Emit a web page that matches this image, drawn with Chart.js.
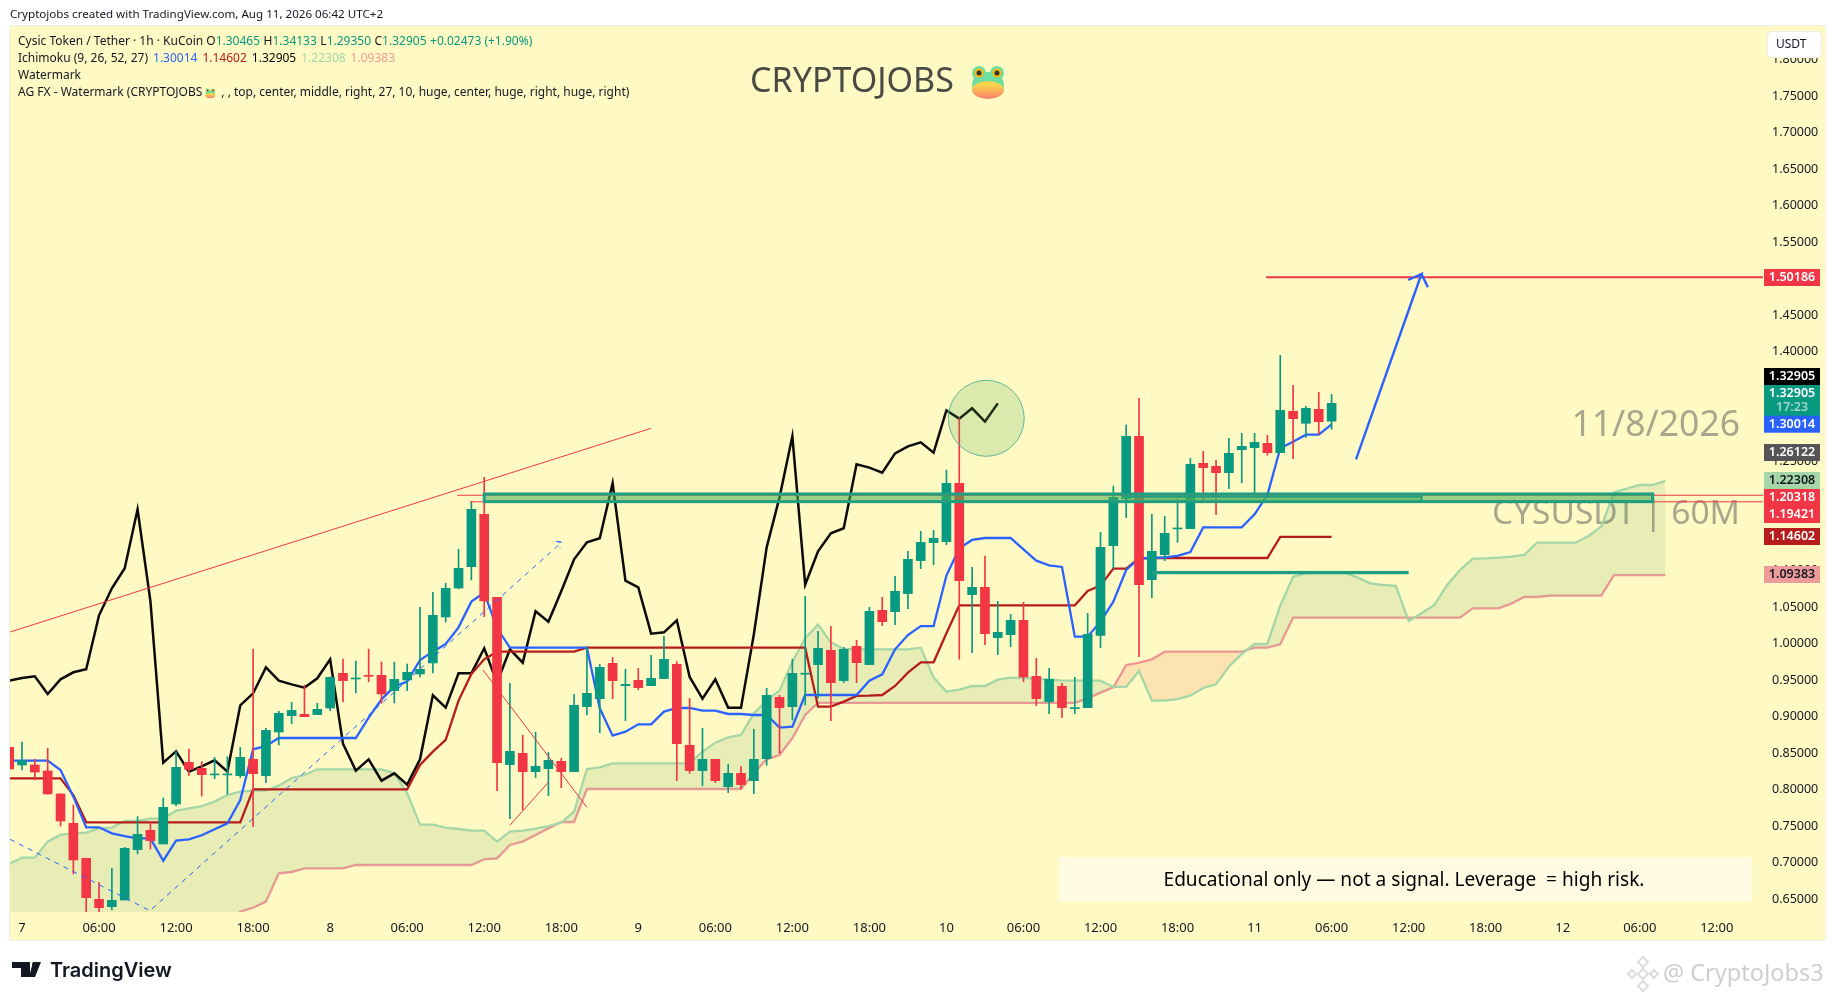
<!DOCTYPE html>
<html>
<head>
<meta charset="utf-8">
<title>CYSUSDT 1h</title>
<script src="https://cdn.jsdelivr.net/npm/chart.js@4"></script>
<style>
html,body{margin:0;padding:0;background:#fff}
canvas{display:block}
</style>
</head>
<body>
<canvas id="chart" width="1835" height="1000"></canvas>
<script>
// candles, first one sits one hour before Aug 7 00:00
const firstHour = -1
const opens = [.8578,.8336,.8336,.8254,.7939,.7537,.7057,.6496,.6395,.6486,.7176,.7441,.7254,.7802,.8373,.8290,.8200,.8200,.8190,.8414,.8190,.8788,.9012,.9030,.9026,.9117,.9592,.9514,.9565,.9565,.9355,.9501,.9583,.9734,1.0364,1.0761,1.1053,1.1771,1.0633,.8341,.8496,.8245,.8286,.8386,.8245,.9135,.9245,.9729,.9423,.9496,.9423,.9519,.9715,.8606,.8259,.8414,.8039,.8222,.8121,.8423,.9263,.9135,.9580,.9711,.9907,.9492,.9962,.9711,1.0455,1.0437,1.0684,1.1136,1.1382,1.1396,1.2195,1.0670,1.0770,1.0081,1.0122,1.0318,.9551,.9204,.9414,.9108,.9122,1.0113,1.1341,1.1985,1.2839,1.0875,1.1218,1.1570,1.1574,1.2469,1.2428,1.2341,1.2656,1.2684,1.2743,1.2615,1.3182,1.3017,1.3209,1.30465]
const highs = [.8650,.8651,.8414,.8565,.7945,.7788,.7060,.6729,.6920,.7208,.7628,.7551,.7884,.8519,.8555,.8382,.8441,.8450,.8578,.9925,.8839,.9071,.9195,.9432,.9181,.9540,.9788,.9761,.9925,.9747,.9747,.9720,1.0496,1.0702,1.0826,1.1291,1.1944,1.2277,1.0633,.9455,.8743,.8784,.8510,.8427,.9304,.9953,.9715,.9811,.9647,.9660,.9839,1.0099,.9752,.9250,.8839,.8414,.8345,.8313,.8825,.9387,.9291,.9784,1.0647,1.0167,1.0236,.9948,1.0044,1.0496,1.0633,1.0921,1.1264,1.1538,1.1552,1.2378,1.3090,1.1044,1.1200,1.0578,1.0400,1.0565,.9798,.9660,.9455,.9537,1.0414,1.1524,1.2159,1.2994,1.3360,1.1770,1.1743,1.1976,1.2538,1.2634,1.2510,1.2812,1.2880,1.2880,1.2853,1.3949,1.3538,1.3250,1.3442,1.34133]
const lows = [.8281,.8268,.8131,.7939,.7500,.6843,.6258,.6304,.6350,.6486,.7117,.7185,.7254,.7774,.8190,.7911,.8149,.7939,.8163,.7491,.8094,.8610,.8902,.8998,.9026,.9081,.9199,.9323,.9478,.9181,.9186,.9355,.9542,.9597,1.0295,1.0748,1.0871,1.0368,.7985,.7601,.7720,.8163,.7916,.8026,.8245,.9021,.8779,.9245,.8944,.9368,.9423,.9519,.8121,.8222,.8053,.8094,.7957,.8012,.7943,.8332,.8496,.8953,.9158,.9250,.8944,.9464,.9464,.9711,1.0245,1.0259,1.0478,1.1027,1.1081,1.1355,.9784,.9875,.9985,.9848,.9957,.9478,.9149,.9039,.8985,.9039,.9122,.9944,1.1031,1.1725,.9820,1.0629,1.1136,1.1387,1.1574,1.1949,1.1766,1.2122,1.2204,1.2058,1.2579,1.2615,1.2533,1.2825,1.2867,1.2935]
const closes = [.8281,.8396,.8240,.7939,.7569,.7035,.6518,.6381,.6482,.7194,.7386,.7299,.7756,.8304,.8277,.8204,.8210,.8210,.8441,.8217,.8811,.9044,.9085,.8998,.9099,.9537,.9492,.9528,.9551,.9309,.9510,.9606,.9647,1.0387,1.0757,1.1031,1.1839,1.0583,.8368,.8523,.8245,.8318,.8400,.8245,.9154,.9318,.9674,.9492,.9441,.9396,.9524,.9784,.8628,.8259,.8414,.8121,.8222,.8067,.8414,.9291,.9122,.9592,.9592,.9935,.9464,.9921,.9738,1.0442,1.0300,1.0716,1.1154,1.1387,1.1442,1.2195,1.0862,1.0770,1.0135,1.0154,1.0318,.9542,.9245,.9510,.9122,.9122,1.0126,1.1318,1.2003,1.2839,1.0807,1.1264,1.1510,1.1580,1.2456,1.2410,1.2341,1.2606,1.2702,1.2757,1.2615,1.3195,1.3081,1.3223,1.3040,1.32905]

// ichimoku
const tenkan = [.8396,.8396,.8396,.8396,.8268,.7902,.7482,.7482,.7400,.7363,.7331,.7331,.7025,.7299,.7318,.7373,.7455,.7537,.7857,.8551,.8596,.8706,.8706,.8706,.8706,.8706,.8706,.8706,.8985,.9236,.9410,.9478,.9775,.9889,.9994,1.0222,1.0574,1.0697,1.0209,.9944,.9944,.9944,.9944,.9944,.9944,.9944,.9113,.8738,.8793,.8893,.8893,.9067,.9117,.9117,.9081,.9081,.9035,.9035,.9021,.9021,.8848,.8861,.9295,.9295,.9295,.9295,.9295,.9492,.9578,.9921,1.0117,1.0240,1.0240,1.0931,1.1305,1.1419,1.1446,1.1446,1.1446,1.1291,1.1136,1.1072,1.1049,1.0094,1.0094,1.0300,1.0574,1.1008,1.1168,1.1172,1.1181,1.1200,1.1254,1.1592,1.1592,1.1592,1.1592,1.1770,1.2035,1.2675,1.2766,1.2862,1.2862,1.30014]
const kijun = [.8153,.8153,.8153,.8153,.8153,.7925,.7551,.7551,.7551,.7551,.7551,.7551,.7551,.7551,.7551,.7551,.7551,.7551,.7551,.8003,.8003,.8003,.8003,.8003,.8003,.8003,.8003,.8003,.8003,.8003,.8003,.8003,.8336,.8519,.8679,.9218,.9583,.9784,.9889,.9889,.9889,.9889,.9889,.9889,.9889,.9944,.9944,.9944,.9944,.9944,.9944,.9944,.9944,.9944,.9944,.9944,.9944,.9944,.9944,.9944,.9944,.9944,.9944,.9135,.9135,.9204,.9282,.9286,.9295,.9419,.9601,.9743,.9743,1.0140,1.0524,1.0524,1.0524,1.0524,1.0524,1.0524,1.0524,1.0524,1.0524,1.0524,1.0720,1.0793,1.1026,1.1026,1.1168,1.1172,1.1172,1.1172,1.1172,1.1172,1.1172,1.1172,1.1172,1.1172,1.1172,1.14602,1.14602,1.14602,1.14602,1.14602]
// lagging span starts at the same hour as the candles, ends at hour 76
const chikou = [.9492,.9528,.9551,.9309,.9510,.9606,.9647,1.0387,1.0757,1.1031,1.1839,1.0583,.8368,.8523,.8245,.8318,.8400,.8245,.9154,.9318,.9674,.9492,.9441,.9396,.9524,.9784,.8628,.8259,.8414,.8121,.8222,.8067,.8414,.9291,.9122,.9592,.9592,.9935,.9464,.9921,.9738,1.0442,1.0300,1.0716,1.1154,1.1387,1.1442,1.2195,1.0862,1.0770,1.0135,1.0154,1.0318,.9542,.9245,.9510,.9122,.9122,1.0126,1.1318,1.2003,1.2839,1.0807,1.1264,1.1510,1.1580,1.2456,1.2410,1.2341,1.2606,1.2702,1.2757,1.2615,1.3195,1.3081,1.3223,1.3040,1.32905]
// leading spans run on to hour 128
const senkouA = [.6980,.7067,.7067,.7286,.7382,.7400,.7409,.7468,.7478,.7569,.7569,.7601,.7605,.7711,.7742,.7774,.7834,.7925,.7971,.7985,.7985,.8053,.8158,.8199,.8277,.8277,.8277,.8277,.8277,.8277,.8222,.7948,.7519,.7519,.7478,.7459,.7437,.7437,.7286,.7423,.7437,.7464,.7500,.7546,.7697,.8281,.8304,.8359,.8359,.8359,.8359,.8359,.8359,.8359,.8519,.8642,.8715,.8747,.9044,.9218,.9355,.9752,1.0072,1.0259,1.0017,.9926,.9921,.9921,.9921,.9921,.9921,.9944,.9537,.9341,.9368,.9418,.9418,.9505,.9532,.9528,.9514,.9510,.9492,.9492,.9492,.9492,.9405,.9405,.9624,.9217,.9217,.9240,.9286,.9391,.9441,.9683,.9857,.9994,.9994,1.0519,1.0916,1.0962,1.0971,1.0971,1.0971,1.0907,1.0825,1.0802,1.0789,1.0309,1.0414,1.0528,1.0802,1.1008,1.1163,1.1168,1.1177,1.1191,1.1213,1.1382,1.1382,1.1382,1.1382,1.1474,1.1602,1.2072,1.2122,1.2172,1.2172,1.22308]
const senkouB = [.60,.60,.60,.60,.60,.60,.60,.60,.60,.60,.60,.60,.60,.60,.60,.60,.60,.60,.6327,.6381,.6464,.6852,.6870,.6920,.6920,.6920,.6920,.6966,.6966,.6966,.6966,.6966,.6966,.6966,.6966,.6966,.6966,.7044,.7057,.7240,.7286,.7377,.7468,.7555,.7555,.8007,.8007,.8007,.8007,.8007,.8007,.8007,.8007,.8007,.8007,.8007,.8007,.8007,.8222,.8414,.8473,.8702,.9021,.9186,.9186,.9186,.9186,.9186,.9186,.9186,.9186,.9186,.9186,.9186,.9186,.9186,.9186,.9186,.9186,.9186,.9186,.9186,.9186,.9186,.9249,.9327,.9400,.9706,.9738,.9784,.9889,.9889,.9889,.9889,.9889,.9889,.9889,.9944,.9944,.9989,1.0355,1.0355,1.0355,1.0355,1.0355,1.0355,1.0355,1.0355,1.0355,1.0355,1.0355,1.0355,1.0355,1.0355,1.0483,1.0483,1.0483,1.0547,1.0638,1.0638,1.0656,1.0656,1.0656,1.0656,1.0656,1.09383,1.09383,1.09383,1.09383,1.09383]

// drawings, as [hour, price]
const trendLine = [[-.93,1.0158],[49,1.2949]]
const fallLine = [[35.9,.9638],[44,.7756]]
const riseLine = [[38,.7510],[41,.8099]]
const dashedPath = [[-.93,.7318],[9.97,.6340],[42.03,1.1387],[41.43,1.1405],[42.03,1.1387],[41.9,1.1313]]
const arrowPath = [[103.9,1.2524],[109,1.5063],[107.96,1.4981],[109,1.5063],[109.5,1.4881]]
const targetLine = [[96.9,1.50186],[135.6,1.50186]]
const upperLine = [[33.9,1.20318],[135.6,1.20318]]
const lowerLine = [[34.9,1.19421],[135.6,1.19421]]
const circlePoint = [75.1,1.3086]
const zoneBig = [36,127,1.2049,1.1944]
const zoneSmall = [86,109,1.2013,1.1944]
const zoneLow = [88,108,1.0995,1.0950]

// axes
const priceTicks = [.65,.70,.75,.80,.85,.90,.95,1.00,1.05,1.10,1.15,1.20,1.25,1.30,1.35,1.40,1.45,1.50,1.55,1.60,1.65,1.70,1.75,1.80]
const timeHours = [0,6,12,18,24,30,36,42,48,54,60,66,72,78,84,90,96,102,108,114,120,126,132]
const timeLabels = ['7','06:00','12:00','18:00','8','06:00','12:00','18:00','9','06:00','12:00','18:00','10','06:00','12:00','18:00','11','06:00','12:00','18:00','12','06:00','12:00']
const tagValues = ['1.50186','1.32905','1.32905','1.30014','1.26122','1.22308','1.20318','1.19421','1.14602','1.09383']

const UP = '#089981', DOWN = '#F23645', BLUE = '#2962FF', KIJUN = '#B71C1C', SPAN_A = '#A5D6A7', SPAN_B = '#EF9A9A'
const FONT = '"Noto Sans"'
const hours = opens.map((_, i) => i + firstHour)
const toPoints = (arr) => arr.map((v, i) => ({x: i + firstHour, y: v}))
const pairs = (arr) => arr.map(p => ({x: p[0], y: p[1]}))
const candleColors = opens.map((o, i) => closes[i] >= o ? UP : DOWN)

function textRun(ctx, x, y, parts, font) {
    ctx.font = font
    ctx.textAlign = 'left'
    ctx.textBaseline = 'middle'
    parts.forEach(p => {
        ctx.fillStyle = p[1]
        ctx.fillText(p[0], x, y)
        x += ctx.measureText(p[0]).width + (p[2] || 0)
    })
    return x
}

function frog(ctx, cx, cy, s) {
    ctx.save()
    ctx.translate(cx, cy)
    ctx.scale(s, s)
    ctx.fillStyle = '#6EDDA0'
    ctx.beginPath(); ctx.ellipse(0, 2, 16, 13, 0, 0, Math.PI * 2); ctx.fill()
    ctx.beginPath(); ctx.arc(-9, -10, 7, 0, Math.PI * 2); ctx.fill()
    ctx.beginPath(); ctx.arc(9, -10, 7, 0, Math.PI * 2); ctx.fill()
    const belly = ctx.createLinearGradient(0, 2, 0, 15)
    belly.addColorStop(0, '#FCD34D')
    belly.addColorStop(1, '#F9836B')
    ctx.fillStyle = belly
    ctx.beginPath(); ctx.ellipse(0, 7, 16, 9, 0, 0, Math.PI * 2); ctx.fill()
    ctx.fillStyle = '#F5B90F'
    ctx.beginPath(); ctx.arc(-9, -10, 4.5, 0, Math.PI * 2); ctx.fill()
    ctx.beginPath(); ctx.arc(9, -10, 4.5, 0, Math.PI * 2); ctx.fill()
    ctx.fillStyle = '#333'
    ctx.beginPath(); ctx.arc(-9, -10, 2.5, 0, Math.PI * 2); ctx.fill()
    ctx.beginPath(); ctx.arc(9, -10, 2.5, 0, Math.PI * 2); ctx.fill()
    ctx.restore()
}

const panelPlugin = {
    id: 'panel',
    beforeDraw(chart) {
        const ctx = chart.ctx
        ctx.save()
        ctx.fillStyle = '#fff'
        ctx.fillRect(0, 0, chart.width, chart.height)
        ctx.fillStyle = '#FFF9C4'
        ctx.fillRect(10, 26, 1815, 914)
        ctx.strokeStyle = '#F0F0E8'
        ctx.strokeRect(9.5, 25.5, 1816, 915)
        ctx.restore()
    },
    beforeDatasetsDraw(chart) {
        // watermark text sits behind the series
        const ctx = chart.ctx
        ctx.save()
        ctx.fillStyle = '#A9A68E'
        ctx.textAlign = 'right'
        ctx.textBaseline = 'middle'
        ctx.font = '35.5px ' + FONT
        ctx.fillText('11/8/2026', 1740, 426)
        ctx.font = '33.5px ' + FONT
        ctx.fillText('CYSUSDT | 60M', 1740, 514)
        ctx.fillStyle = '#FFFBE3'
        ctx.fillRect(1059, 857, 693, 44)
        ctx.restore()
    }
}

const overlayPlugin = {
    id: 'overlay',
    afterDatasetsDraw(chart) {
        const ctx = chart.ctx, xs = chart.scales.x, ys = chart.scales.y
        const zone = (z, fill, line, w) => {
            const x0 = xs.getPixelForValue(z[0]), x1 = xs.getPixelForValue(z[1])
            const y0 = ys.getPixelForValue(z[2]), y1 = ys.getPixelForValue(z[3])
            ctx.fillStyle = fill
            ctx.fillRect(x0, y0, x1 - x0, y1 - y0)
            if (line) {
                ctx.strokeStyle = line
                ctx.lineWidth = w
                ctx.strokeRect(x0, y0, x1 - x0, y1 - y0)
            }
        }
        ctx.save()
        zone(zoneBig, 'rgba(76,175,80,.55)', '#1E9E82', 3)
        zone(zoneSmall, 'rgba(76,175,80,.45)', '#1E9E82', 2)
        zone(zoneLow, '#1E9E82')
        ctx.fillStyle = 'rgba(76,175,80,.2)'
        ctx.strokeStyle = '#5DB898'
        ctx.lineWidth = 1
        ctx.beginPath()
        ctx.arc(xs.getPixelForValue(circlePoint[0]), ys.getPixelForValue(circlePoint[1]), 38, 0, Math.PI * 2)
        ctx.fill()
        ctx.stroke()
        ctx.restore()
    },
    afterDraw(chart) {
        const ctx = chart.ctx
        ctx.save()
        // header + legend
        textRun(ctx, 10, 15, [['Cryptojobs created with TradingView.com, Aug 11, 2026 06:42 UTC+2', '#131722']], '11.6px ' + FONT)
        const f = '12px ' + FONT
        textRun(ctx, 18, 42, [['Cysic Token / Tether · 1h · KuCoin', '#131722', 3], ['O', '#131722'], ['1.30465', UP, 3.5], ['H', '#131722'], ['1.34133', UP, 3.5], ['L', '#131722'], ['1.29350', UP, 3.5], ['C', '#131722'], ['1.32905', UP, 3.5], ['+0.02473 (+1.90%)', UP]], f)
        textRun(ctx, 18, 59, [['Ichimoku (9, 26, 52, 27)', '#131722', 5], ['1.30014', BLUE, 5], ['1.14602', KIJUN, 5], ['1.32905', '#000', 5], ['1.22308', SPAN_A, 5], ['1.09383', SPAN_B]], f)
        textRun(ctx, 18, 76, [['Watermark', '#131722']], f)
        const after = textRun(ctx, 18, 93, [['AG FX - Watermark (CRYPTOJOBS', '#131722']], f)
        frog(ctx, after + 8, 93.5, .3)
        textRun(ctx, after + 19, 93, [[', , top, center, middle, right, 27, 10, huge, center, huge, right, huge, right)', '#131722']], f)
        // big watermark
        textRun(ctx, 750, 82, [['CRYPTOJOBS', '#4A4A44']], '34px ' + FONT)
        frog(ctx, 988, 83, 1)
        // disclaimer
        ctx.fillStyle = '#000'
        ctx.font = '19.1px ' + FONT
        ctx.textAlign = 'center'
        ctx.textBaseline = 'middle'
        ctx.fillText('Educational only — not a signal. Leverage  = high risk.', 1404, 881)
        // currency button
        ctx.fillStyle = '#fff'
        ctx.strokeStyle = '#EDEDED'
        ctx.beginPath()
        ctx.roundRect(1767.5, 31.5, 54, 26, 4)
        ctx.fill()
        ctx.stroke()
        textRun(ctx, 1776, 45, [['USDT', '#131722']], '12px ' + FONT)
        // price tags on the axis
        const tagLayout = [
            [269, 17, DOWN, '#fff'], [368, 17, '#000', '#fff'], [385, 31, UP, '#fff'], [415.7, 17, BLUE, '#fff'],
            [444, 17, '#555', '#fff'], [472, 17, SPAN_A, '#131722'], [489, 17, DOWN, '#fff'], [506, 17, DOWN, '#fff'],
            [528, 17, KIJUN, '#fff'], [566, 17, SPAN_B, '#131722']
        ]
        ctx.font = '600 12.5px ' + FONT
        ctx.textAlign = 'center'
        tagLayout.forEach((t, i) => {
            ctx.fillStyle = t[2]
            ctx.fillRect(1764, t[0], 56, t[1])
            ctx.fillStyle = t[3]
            ctx.fillText(tagValues[i], 1792, t[0] + 8.5)
        })
        ctx.fillStyle = '#9ED8C6'
        ctx.fillText('17:23', 1792, 407)
        // footer
        ctx.fillStyle = '#131722'
        ctx.fillRect(12, 962, 18, 6)
        ctx.fillRect(21, 962, 9, 15)
        ctx.beginPath(); ctx.arc(35, 965, 3, 0, Math.PI * 2); ctx.fill()
        ctx.beginPath(); ctx.moveTo(35, 977); ctx.lineTo(41, 962); ctx.lineTo(33, 962); ctx.lineTo(29, 977); ctx.closePath(); ctx.fill()
        textRun(ctx, 50, 971, [['TradingView', '#131722']], '600 20px Inter')
        ctx.strokeStyle = '#DCDCDC'
        ctx.lineWidth = 2
        ;[[1643, 962, 5], [1643, 986, 5], [1632, 974, 4], [1654, 974, 4], [1643, 974, 5]].forEach(d => {
            ctx.beginPath()
            ctx.moveTo(d[0], d[1] - d[2]); ctx.lineTo(d[0] + d[2], d[1]); ctx.lineTo(d[0], d[1] + d[2]); ctx.lineTo(d[0] - d[2], d[1]); ctx.closePath()
            ctx.stroke()
        })
        textRun(ctx, 1663, 974, [['@ CryptoJobs3', '#CFCFCF']], '23.5px ' + FONT)
        ctx.restore()
    }
}

const lineSet = (label, data, color, width, order, extra) => Object.assign({
    type: 'line', label, data, borderColor: color, borderWidth: width, order,
    pointRadius: 0, tension: 0, fill: false, spanGaps: true
}, extra || {})

new Chart(document.getElementById('chart').getContext('2d'), {
    data: {
        datasets: [
            lineSet('Leading span B', toPoints(senkouB), SPAN_B, 2.3, 60),
            lineSet('Leading span A', toPoints(senkouA), SPAN_A, 2.3, 59, {
                fill: {target: 0, above: 'rgba(67,160,71,.12)', below: 'rgba(244,100,54,.14)'}
            }),
            lineSet('Lagging span', toPoints(chikou), '#0B0B0B', 2.5, 50),
            lineSet('Kijun', toPoints(kijun), KIJUN, 2.3, 49),
            lineSet('Tenkan', toPoints(tenkan), BLUE, 2.3, 48),
            {type: 'bar', label: 'Wicks', data: hours.map((h, i) => ({x: h, y: [lows[i], highs[i]]})), backgroundColor: candleColors, barThickness: 1, grouped: false, order: 20},
            {type: 'bar', label: 'Bodies', data: hours.map((h, i) => ({x: h, y: [Math.min(opens[i], closes[i]), Math.max(opens[i], closes[i])]})), backgroundColor: candleColors, barThickness: 9, minBarLength: 1, grouped: false, order: 19},
            lineSet('Trend', pairs(trendLine), DOWN, 1, 10),
            lineSet('Fall', pairs(fallLine), DOWN, 1, 10),
            lineSet('Rise', pairs(riseLine), DOWN, 1, 10),
            lineSet('Dashed', pairs(dashedPath), BLUE, 1, 10, {borderDash: [5, 5]}),
            lineSet('Target', pairs(targetLine), DOWN, 2, 9),
            lineSet('Upper', pairs(upperLine), DOWN, 1, 9),
            lineSet('Lower', pairs(lowerLine), DOWN, 1, 9),
            lineSet('Arrow', pairs(arrowPath), BLUE, 2.4, 8)
        ]
    },
    options: {
        responsive: false,
        animation: false,
        events: [],
        devicePixelRatio: 1,
        layout: {padding: {left: 10, right: 10, top: 27, bottom: 60}},
        plugins: {legend: {display: false}, tooltip: {enabled: false}},
        scales: {
            x: {
                type: 'linear',
                offset: false,
                min: -.935,
                max: 135.6,
                grid: {display: false, offset: false},
                border: {display: false},
                afterBuildTicks: s => { s.ticks = timeHours.map(v => ({value: v})) },
                afterFit: s => { s.height = 28; s.paddingLeft = 0; s.paddingRight = 0 },
                ticks: {
                    autoSkip: false,
                    maxRotation: 0,
                    padding: 0,
                    color: '#131722',
                    font: {family: 'Noto Sans', size: 13},
                    callback: v => timeLabels[timeHours.indexOf(v)]
                }
            },
            y: {
                type: 'linear',
                position: 'right',
                min: .6322,
                max: 1.8447,
                grid: {display: false, drawTicks: false},
                border: {display: false},
                afterBuildTicks: s => { s.ticks = priceTicks.map(v => ({value: v})) },
                afterFit: s => { s.width = 62; s.paddingTop = 0; s.paddingBottom = 0 },
                ticks: {
                    autoSkip: false,
                    padding: 9,
                    color: '#131722',
                    font: {family: 'Noto Sans', size: 12.5},
                    callback: v => v.toFixed(5)
                }
            }
        }
    },
    plugins: [panelPlugin, overlayPlugin]
})
</script>
</body>
</html>
